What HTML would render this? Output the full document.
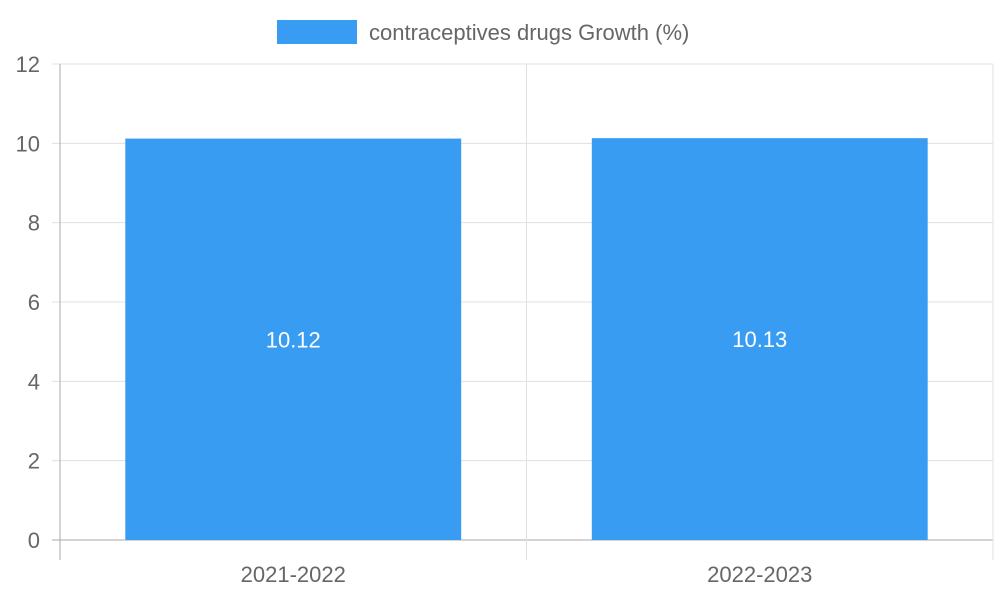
<!DOCTYPE html>
<html><head><meta charset="utf-8"><style>
html,body{margin:0;padding:0;background:#fff;}
svg{display:block;font-family:"Liberation Sans",sans-serif;}
</style></head><body>
<svg id="chart" width="1000" height="600">
<g id="legend">
<rect x="277" y="20" width="80" height="24" fill="#389cf2"/>
<text x="369" y="40" font-size="22" fill="#666">contraceptives drugs Growth (%)</text>
</g>
<g id="grid"></g>
<g id="bars"></g>
</svg>
<script>
const categories = ["2021-2022", "2022-2023"];
const values = [10.12, 10.13];
const yTicks = [0, 2, 4, 6, 8, 10, 12];
const NS = "http://www.w3.org/2000/svg";
const L = 60, R = 993, T = 64, B = 540, yMax = 12;
function y(v){ return B - (B - T) * v / yMax; }
const bw = (R - L) / categories.length;
function x(i){ return L + bw * i; }
function mk(tag, attrs, parent){ const e = document.createElementNS(NS, tag); for (const k in attrs) e.setAttribute(k, attrs[k]); parent.appendChild(e); return e; }
const grid = document.getElementById('grid');
yTicks.forEach(t => {
  const ln = mk('line', {x1: L - 8, x2: R, y1: y(t), y2: y(t), stroke: t === 0 ? '#aaa' : '#e0e0e0', 'stroke-width': 1}, grid);
  
  
  const tx = mk('text', {x: L - 20, y: y(t) + 8, 'text-anchor': 'end', 'font-size': 22, fill: '#666'}, grid);
  tx.textContent = t;
  
  
});
for (let i = 0; i <= categories.length; i++) {
  const ln = mk('line', {x1: x(i), x2: x(i), y1: T, y2: B + 20, stroke: i === 0 ? '#aaa' : '#e0e0e0', 'stroke-width': 1}, grid);
  
  
}
const bars = document.getElementById('bars');
categories.forEach((c, i) => {
  const w = bw * 0.72, bx = x(i) + (bw - w) / 2;
  const r = mk('rect', {x: bx, y: y(values[i]), width: w, height: B - y(values[i]), fill: '#389cf2'}, bars);
  
  
  const v = mk('text', {x: bx + w / 2, y: (y(values[i]) + B) / 2 + 8, 'text-anchor': 'middle', 'font-size': 22, fill: '#fff'}, bars);
  v.textContent = values[i].toFixed(2);
  
  
  const xl = mk('text', {x: x(i) + bw / 2, y: 582, 'text-anchor': 'middle', 'font-size': 22, fill: '#666'}, bars);
  xl.textContent = c;
  
  
});
</script>
</body></html>
